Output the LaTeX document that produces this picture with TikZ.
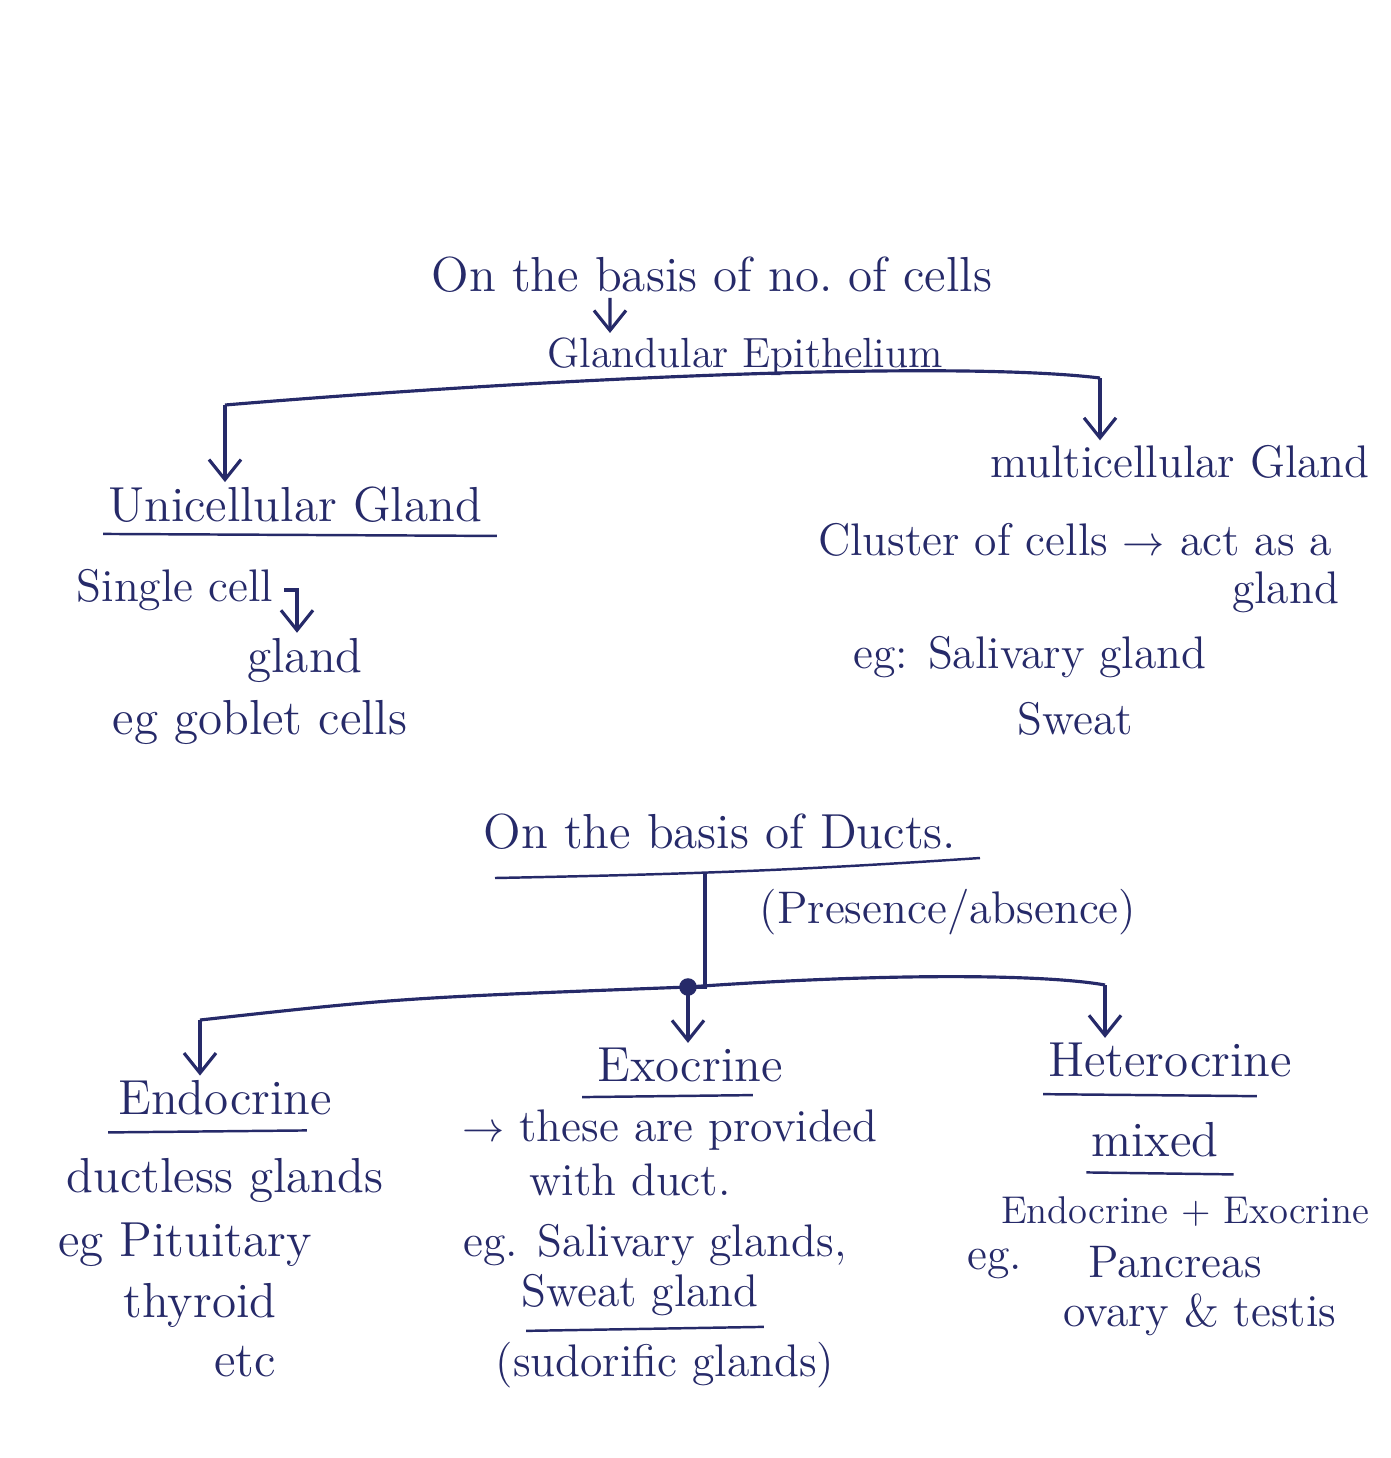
\documentclass[tikz,border=0pt]{standalone}
\usepackage{xcolor}
\usepackage{amsmath}
\usetikzlibrary{arrows.meta,positioning,calc}
\definecolor{ink}{RGB}{38,42,105}

\begin{document}
\begin{tikzpicture}[
  line width=0.9pt,
  draw=ink,
  hand/.style={text=ink, font=\fontsize{14}{17}\selectfont, inner sep=1pt},
  mid/.style={hand, font=\fontsize{13}{16}\selectfont},
  small/.style={hand, font=\fontsize{12}{15}\selectfont},
  arr/.style={draw=ink, -{Straight Barb[length=2mm,width=3.2mm]}},
  uline/.style={draw=ink, line width=0.7pt}
]
  \useasboundingbox (0,0) rectangle (13.9,-14.58);

  % classification by number of cells
  \node[hand] (basis) at (7.12,-2.75) {On the basis of no.\ of cells};
  \node[small] (epi) at (7.45,-3.57) {Glandular Epithelium};
  \node[hand] (uni) at (2.95,-5.05) {Unicellular Gland};
  \node[mid] (single) at (1.75,-5.9) {Single cell};
  \node[hand] (ugland) at (3.05,-6.6) {gland};
  \node[hand] (goblet) at (2.6,-7.22) {eg goblet cells};
  \node[mid] (multi) at (11.8,-4.62) {multicellular Gland};
  \node[mid] (cluster) at (10.75,-5.4) {Cluster of cells $\rightarrow$ act as a};
  \node[mid, below right=0.05cm and -1.1cm of cluster.south east] (mgland) {gland};
  \node[mid] (saliv) at (10.3,-6.57) {eg: Salivary gland};
  \node[mid, below=0.14cm of saliv, xshift=0.45cm] (sweat) {Sweat};

  \coordinate (tl) at (2.25,-4.05);
  \coordinate (tr) at (11.0,-3.78);
  \draw[arr] ([xshift=-1.02cm]basis.south) -- ([xshift=-1.35cm]epi.north);
  \draw (tl) .. controls (5.5,-3.78) and (9.5,-3.6) .. (tr);
  \draw[arr] (tl) -- (tl |- uni.north);
  \draw[arr] (tr) -- (tr |- multi.north);
  \draw[uline] ($(uni.south west)+(0,-0.06)$) -- ($(uni.south east)+(0.1,-0.08)$);
  \draw[arr] ([xshift=0.06cm]single.east) -| ([xshift=-0.08cm]ugland.north);

  % classification by ducts
  \node[hand] (ducts) at (7.2,-8.32) {On the basis of Ducts.};
  \node[mid] (pres) at (9.48,-9.12) {(Presence/absence)};
  \node[hand] (endo) at (2.25,-10.98) {Endocrine};
  \node[hand] (ductless) at (2.25,-11.8) {ductless glands};
  \node[hand] (pitu) at (1.85,-12.45) {eg Pituitary};
  \node[hand] (thyr) at (2.0,-13.05) {thyroid};
  \node[hand] (etc) at (2.45,-13.62) {etc};
  \node[hand] (exo) at (6.9,-10.65) {Exocrine};
  \node[mid] (these) at (6.7,-11.3) {$\rightarrow$ these are provided};
  \node[mid] (duct) at (6.3,-11.8) {with duct.};
  \node[mid] (exsal) at (6.55,-12.45) {eg. Salivary glands,};
  \node[mid] (exsw) at (6.4,-12.95) {Sweat gland};
  \node[mid] (sudo) at (6.65,-13.65) {(sudorific glands)};
  \node[hand] (hetero) at (11.7,-10.6) {Heterocrine};
  \node[hand] (mixed) at (11.55,-11.4) {mixed};
  \node[hand, font=\fontsize{11}{14}\selectfont] (endexo) at (11.85,-12.12) {Endocrine + Exocrine};
  \node[mid] (heg) at (9.95,-12.64) {eg.};
  \node[mid] (panc) at (11.75,-12.62) {Pancreas};
  \node[mid] (ovary) at (12.0,-13.15) {ovary \& testis};

  \coordinate (dl) at (4.95,-8.78);
  \coordinate (dr) at (9.8,-8.58);
  \coordinate (stem) at (7.05,-8.73);
  \coordinate (bl) at (2.0,-10.2);
  \coordinate (bm) at (6.88,-9.87);
  \coordinate (br) at (11.05,-9.85);
  \draw[uline] (dl) .. controls (7,-8.74) and (8,-8.7) .. (dr);
  \draw (stem) |- (bm);
  \draw (bl) .. controls (4,-9.98) .. (bm) .. controls (9,-9.72) and (10.5,-9.75) .. (br);
  \fill[ink] (bm) circle (2.5pt);
  \draw[arr] (bl) -- (bl |- endo.north);
  \draw[arr] (bm) -- (bm |- exo.north);
  \draw[arr] (br) -- (br |- hetero.north);

  \draw[uline] ($(endo.south west)+(-0.05,-0.12)$) -- ($(endo.south east)+(-0.3,-0.1)$);
  \draw[uline] ($(exo.south west)+(-0.1,-0.1)$) -- ($(exo.south east)+(-0.35,-0.08)$);
  \draw[uline] ($(hetero.south west)+(0,-0.12)$) -- ($(hetero.south east)+(-0.4,-0.14)$);
  \draw[uline] ($(mixed.south west)+(0,-0.1)$) -- ($(mixed.south east)+(0.1,-0.12)$);
  \draw[uline] ($(exsw.south west)+(0.1,-0.1)$) -- ($(exsw.south east)+(0,-0.06)$);
\end{tikzpicture}
\end{document}
